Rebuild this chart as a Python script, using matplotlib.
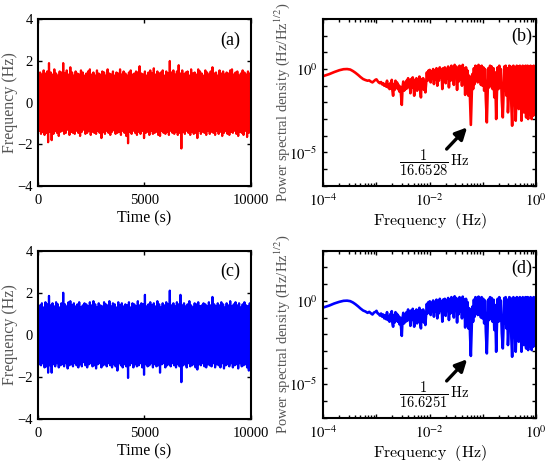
import numpy as np
import matplotlib
matplotlib.use("Agg")
import matplotlib.pyplot as plt
from matplotlib.ticker import LogLocator, FixedLocator, NullFormatter, FuncFormatter

plt.rcParams['font.family'] = ['Liberation Serif', 'DejaVu Serif']
plt.rcParams['mathtext.fontset'] = 'stix'

# ---- time series: upper / lower excursions of the noise band ----
upper_a = [1.30,1.45,1.35,1.55,1.40,1.50,1.90,1.45,1.35,1.60,1.40,1.30,1.50,1.45,1.90,1.40,1.55,1.35,1.70,1.45,
           1.30,1.50,1.40,1.35,1.55,1.45,1.30,1.40,1.50,1.60,1.35,1.45,1.30,1.55,1.40,1.35,1.50,1.45,1.30,1.60,
           1.40,1.35,1.50,1.30,1.45,1.40,1.60,1.35,1.50,1.40,1.30,1.45,1.55,1.35,1.40,1.50,1.45,1.75,1.40,1.35,
           1.50,1.30,1.45,1.55,1.40,1.65,1.35,1.50,1.40,1.45,1.55,1.30,1.50,1.40,2.00,1.45,1.55,1.35,1.50,1.80,
           1.40,1.55,1.35,1.45,1.50,1.30,1.60,1.40,1.45,1.35,1.60,1.50,1.40,1.30,1.55,1.45,1.35,1.50,1.70,1.40,
           1.45,1.30,1.55,1.40,1.50,1.35,1.45,1.40,1.55,1.60,1.35,1.45,1.50,1.30,1.40,1.55,1.45,1.35,1.50,1.40]
lower_a = [-1.35,-1.50,-1.40,-1.55,-1.45,-1.90,-1.40,-1.80,-1.50,-1.35,-1.45,-1.60,-1.40,-1.35,-1.50,-1.45,-1.30,-1.55,-1.40,-1.45,
           -1.50,-1.35,-1.45,-1.60,-1.40,-1.30,-1.50,-1.45,-1.35,-1.55,-1.40,-1.45,-1.50,-1.35,-1.45,-1.70,-1.40,-1.50,-1.35,-1.45,
           -1.55,-1.40,-1.30,-1.50,-1.45,-1.40,-1.55,-1.35,-1.45,-1.60,-1.95,-1.40,-1.50,-1.35,-1.45,-1.55,-1.40,-1.50,-1.35,-1.70,
           -1.45,-1.40,-1.55,-1.35,-1.50,-1.45,-1.40,-1.55,-1.60,-1.35,-1.45,-1.50,-1.40,-1.55,-1.35,-1.45,-1.50,-1.40,-1.55,-1.45,
           -2.20,-1.40,-1.50,-1.35,-1.45,-1.55,-1.40,-1.50,-1.45,-1.70,-1.35,-1.50,-1.40,-1.45,-1.55,-1.35,-1.50,-1.40,-1.45,-1.55,
           -1.35,-1.50,-1.40,-1.60,-1.45,-1.35,-1.50,-1.55,-1.40,-1.45,-1.35,-1.50,-1.60,-1.40,-1.45,-1.55,-1.35,-1.65,-1.45,-1.40]
upper_c = [1.35,1.40,1.50,1.30,1.55,1.45,1.85,1.40,1.50,1.35,1.55,1.45,1.30,1.50,2.00,1.45,1.35,1.55,1.60,1.40,
           1.50,1.35,1.45,1.55,1.30,1.40,1.50,1.45,1.35,1.55,1.40,1.60,1.45,1.30,1.50,1.40,1.35,1.55,1.45,1.40,
           1.60,1.35,1.50,1.45,1.30,1.55,1.40,1.50,1.35,1.45,1.40,1.55,1.30,1.50,1.45,1.35,1.60,1.40,1.50,1.45,
           1.90,1.35,1.45,1.55,1.40,1.50,1.35,1.60,1.45,1.30,1.50,1.40,1.55,1.45,2.10,1.40,1.50,1.35,1.55,1.45,
           1.90,1.40,1.50,1.35,1.45,1.60,1.40,1.30,1.50,1.45,1.55,1.35,1.40,1.50,1.45,1.35,1.55,1.40,1.80,1.45,
           1.35,1.50,1.40,1.55,1.45,1.30,1.50,1.40,1.60,1.35,1.45,1.55,1.40,1.50,1.30,1.45,1.55,1.40,1.35,1.50]
lower_c = [-1.40,-1.45,-1.35,-1.55,-1.50,-1.80,-1.45,-1.80,-1.40,-1.50,-1.35,-1.55,-1.45,-1.40,-1.50,-1.35,-1.60,-1.45,-1.40,-1.50,
           -1.35,-1.45,-1.55,-1.40,-1.50,-1.30,-1.45,-1.55,-1.40,-1.35,-1.50,-1.45,-1.60,-1.40,-1.35,-1.55,-1.45,-1.40,-1.50,-1.35,
           -1.45,-1.55,-1.40,-1.50,-1.70,-1.35,-1.45,-1.55,-1.40,-1.50,-2.05,-1.45,-1.35,-1.55,-1.40,-1.50,-1.45,-1.35,-1.55,-1.90,
           -1.40,-1.50,-1.45,-1.35,-1.55,-1.40,-1.50,-1.45,-1.80,-1.40,-1.35,-1.55,-1.45,-1.40,-1.50,-1.35,-1.45,-1.55,-1.40,-1.50,
           -2.25,-1.45,-1.40,-1.55,-1.35,-1.50,-1.45,-1.40,-1.55,-1.65,-1.40,-1.45,-1.35,-1.50,-1.55,-1.40,-1.45,-1.50,-1.35,-1.55,
           -1.40,-1.45,-1.55,-1.35,-1.60,-1.45,-1.40,-1.50,-1.35,-1.55,-1.45,-1.40,-1.60,-1.35,-1.50,-1.45,-1.40,-1.55,-1.70,-1.45]

# ---- PSD: frequencies (Hz) and log10 of the density ----
psd_freq = [1.0e-4,1.3e-4,1.6e-4,2.0e-4,2.4e-4,2.8e-4,3.2e-4,3.6e-4,4.0e-4,4.5e-4,
            5.0e-4,5.6e-4,6.2e-4,6.8e-4,7.3e-4,7.8e-4,8.4e-4,9.0e-4,9.6e-4,1.00e-3,
            1.05e-3,1.10e-3,1.16e-3,1.22e-3,1.28e-3,1.34e-3,1.40e-3,1.46e-3,1.52e-3,1.58e-3,
            1.64e-3,1.70e-3,1.76e-3,1.82e-3,1.88e-3,1.94e-3,2.00e-3,2.06e-3,2.12e-3,2.20e-3,
            2.28e-3,2.36e-3,2.44e-3,2.52e-3,2.60e-3,2.70e-3,2.80e-3,2.90e-3,3.00e-3,3.10e-3,
            3.20e-3,3.32e-3,3.44e-3,3.56e-3,3.68e-3,3.80e-3,3.94e-3,4.08e-3,4.22e-3,4.36e-3,
            4.50e-3,4.66e-3,4.82e-3,4.98e-3,5.14e-3,5.30e-3,5.48e-3,5.66e-3,5.84e-3,6.04e-3,
            6.24e-3,6.44e-3,6.66e-3,6.88e-3,7.10e-3,7.34e-3,7.58e-3,7.82e-3,8.08e-3,8.34e-3,
            8.60e-3,8.90e-3,9.20e-3,9.50e-3,9.80e-3,1.01e-2,1.05e-2,1.09e-2,1.13e-2,1.17e-2,
            1.21e-2,1.25e-2,1.30e-2,1.35e-2,1.40e-2,1.45e-2,1.50e-2,1.56e-2,1.62e-2,1.68e-2,
            1.74e-2,1.80e-2,1.87e-2,1.94e-2,2.01e-2,2.08e-2,2.16e-2,2.24e-2,2.32e-2,2.40e-2,
            2.49e-2,2.58e-2,2.67e-2,2.77e-2,2.87e-2,2.97e-2,3.08e-2,3.19e-2,3.30e-2,3.42e-2,
            3.54e-2,3.67e-2,3.80e-2,3.94e-2,4.08e-2,4.22e-2,4.37e-2,4.53e-2,4.69e-2,4.86e-2,
            5.03e-2,5.21e-2,5.40e-2,5.60e-2,5.80e-2,6.00e-2,6.20e-2,6.40e-2,6.62e-2,6.85e-2,
            7.08e-2,7.32e-2,7.57e-2,7.83e-2,8.10e-2,8.38e-2,8.67e-2,8.97e-2,9.28e-2,9.60e-2,
            9.93e-2,1.03e-1,1.07e-1,1.11e-1,1.15e-1,1.20e-1,1.24e-1,1.28e-1,1.33e-1,1.38e-1,
            1.43e-1,1.48e-1,1.54e-1,1.60e-1,1.66e-1,1.72e-1,1.80e-1,1.86e-1,1.92e-1,1.99e-1,
            2.06e-1,2.13e-1,2.20e-1,2.30e-1,2.40e-1,2.48e-1,2.56e-1,2.64e-1,2.72e-1,2.81e-1,
            2.90e-1,3.00e-1,3.09e-1,3.18e-1,3.27e-1,3.36e-1,3.48e-1,3.60e-1,3.70e-1,3.80e-1,
            3.90e-1,4.00e-1,4.10e-1,4.20e-1,4.30e-1,4.40e-1,4.53e-1,4.65e-1,4.80e-1,4.92e-1,
            5.04e-1,5.18e-1,5.30e-1,5.40e-1,5.55e-1,5.70e-1,5.85e-1,6.00e-1,6.15e-1,6.30e-1,
            6.45e-1,6.60e-1,6.75e-1,6.90e-1,7.05e-1,7.20e-1,7.40e-1,7.60e-1,7.80e-1,8.00e-1,
            8.20e-1,8.40e-1,8.60e-1,8.80e-1,9.00e-1,9.20e-1,9.40e-1,9.60e-1,9.80e-1,1.00e0]
psd_b_exp = [-0.42,-0.30,-0.18,-0.07,-0.01,0.00,-0.03,-0.12,-0.22,-0.35,
             -0.48,-0.60,-0.66,-0.70,-0.68,-0.75,-0.80,-0.72,-0.64,-0.62,
             -0.72,-0.80,-0.85,-0.78,-0.92,-0.85,-1.00,-0.90,-1.05,-0.70,
             -1.10,-0.95,-1.20,-0.85,-1.15,-0.65,-1.30,-1.60,-0.90,-1.25,
             -0.70,-1.10,-0.80,-1.20,-0.95,-1.35,-1.05,-1.55,-2.15,-1.10,
             -0.75,-1.30,-0.85,-1.20,-0.70,-1.15,-0.55,-1.05,-0.75,-1.45,
             -0.60,-1.10,-0.50,-1.00,-1.60,-0.65,-1.15,-0.55,-1.30,-0.70,
             -1.00,-0.45,-1.20,-1.70,-0.60,-1.10,-0.55,-1.25,-0.75,-1.40,
             -0.90,-0.20,-0.70,-0.10,-0.60,-0.05,-0.80,-0.15,-0.55,0.00,
             -0.90,-0.10,-0.60,0.05,-1.00,-0.05,-0.70,0.10,-0.50,-0.05,
             -1.20,0.05,-0.65,0.10,-0.85,0.00,-0.55,0.15,-1.10,0.05,
             -0.70,0.20,-0.60,0.10,-0.95,0.25,-0.50,0.15,-1.25,0.05,
             -0.75,0.20,-0.60,0.10,-1.00,0.25,-0.65,0.05,-1.55,0.10,
             -0.90,-0.10,-1.60,-0.40,-2.00,-3.35,-1.80,-0.30,-1.20,0.05,
             -0.90,0.20,-0.70,0.15,-0.80,0.25,-0.75,0.15,-0.95,0.20,
             -1.00,0.10,-1.30,0.00,-1.80,-3.20,-1.60,0.05,-1.10,0.20,
             -0.95,0.15,-1.20,0.05,-1.70,-0.20,-3.00,-1.40,0.10,-1.20,
             0.20,-1.10,0.00,-1.90,-2.90,-1.50,0.15,-1.30,0.20,-1.60,
             0.05,-2.60,-1.70,0.20,-1.50,0.15,-2.20,-3.40,-1.80,0.20,
             -1.60,0.10,-2.00,-3.10,-1.90,0.20,-1.70,0.15,-2.40,-1.60,
             0.20,-2.00,0.10,-3.10,-1.80,0.20,-2.30,-2.60,0.15,-2.10,
             0.20,-2.90,0.10,-2.20,0.20,-3.00,0.15,-2.40,-2.70,0.20,
             -2.30,-3.00,0.15,-2.50,-2.80,0.20,-2.40,-2.70,0.15,-2.50]
psd_d_exp = [-0.40,-0.28,-0.16,-0.06,0.00,0.01,-0.02,-0.10,-0.20,-0.33,
             -0.46,-0.58,-0.64,-0.72,-0.66,-0.74,-0.82,-0.70,-0.66,-0.60,
             -0.75,-0.78,-0.88,-0.76,-0.95,-0.82,-1.05,-0.88,-1.10,-0.68,
             -1.15,-0.92,-1.25,-0.80,-1.20,-0.62,-1.35,-1.55,-0.85,-1.30,
             -0.68,-1.15,-0.78,-1.25,-0.90,-1.40,-1.00,-1.60,-2.10,-1.05,
             -0.72,-1.35,-0.80,-1.25,-0.68,-1.20,-0.52,-1.10,-0.72,-1.50,
             -0.58,-1.15,-0.48,-1.05,-1.55,-0.62,-1.20,-0.52,-1.35,-0.68,
             -1.05,-0.42,-1.25,-1.65,-0.58,-1.15,-0.52,-1.30,-0.72,-1.45,
             -0.85,-0.18,-0.75,-0.08,-0.65,-0.03,-0.85,-0.12,-0.60,0.02,
             -0.95,-0.08,-0.65,0.07,-1.05,-0.03,-0.75,0.12,-0.55,-0.03,
             -1.25,0.07,-0.70,0.12,-0.90,0.02,-0.60,0.17,-1.15,0.07,
             -0.75,0.22,-0.65,0.12,-1.00,0.27,-0.55,0.17,-1.30,0.07,
             -0.80,0.22,-0.65,0.12,-1.05,0.25,-0.70,0.07,-1.60,0.12,
             -0.95,-0.08,-1.65,-0.45,-2.05,-3.30,-1.85,-0.35,-1.25,0.07,
             -0.95,0.22,-0.75,0.17,-0.85,0.25,-0.80,0.17,-1.00,0.22,
             -1.05,0.12,-1.35,0.02,-1.85,-3.15,-1.65,0.07,-1.15,0.22,
             -1.00,0.17,-1.25,0.07,-1.75,-0.25,-3.05,-1.45,0.12,-1.25,
             0.22,-1.15,0.02,-1.95,-2.85,-1.55,0.17,-1.35,0.22,-1.65,
             0.07,-2.65,-1.75,0.22,-1.55,0.17,-2.25,-3.35,-1.85,0.22,
             -1.65,0.12,-2.05,-3.05,-1.95,0.22,-1.75,0.17,-2.45,-1.65,
             0.22,-2.05,0.12,-3.05,-1.85,0.22,-2.35,-2.65,0.17,-2.15,
             0.22,-2.85,0.12,-2.25,0.22,-2.95,0.17,-2.45,-2.75,0.22,
             -2.35,-2.95,0.17,-2.55,-2.75,0.22,-2.45,-2.65,0.17,-2.55]

panels = [
    dict(pos_ts=[0.0697, 0.6034, 0.386, 0.3554], pos_psd=[0.588, 0.604, 0.386, 0.3554],
         up=upper_a, lo=lower_a, psd=psd_b_exp, color='#ff0000',
         tags=('(a)', '(b)'), period='16.6528'),
    dict(pos_ts=[0.0697, 0.1066, 0.386, 0.359], pos_psd=[0.588, 0.1094, 0.386, 0.356],
         up=upper_c, lo=lower_c, psd=psd_d_exp, color='#0000ff',
         tags=('(c)', '(d)'), period='16.6251'),
]

fig = plt.figure(figsize=(5.5, 4.69), dpi=100)
grey = '#555555'


def style(ax):
    for s in ax.spines.values():
        s.set_linewidth(1.5)
    ax.tick_params(which='both', direction='in', top=True, right=True,
                   labelsize=10.5, width=1, pad=4)
    ax.tick_params(axis='x', which='both', pad=6)
    ax.tick_params(which='major', length=3)
    ax.tick_params(which='minor', length=2)


def log_label(v, pos):
    e = int(round(np.log10(v)))
    return r'$10^{%d}$' % e


for p in panels:
    # time series
    ax = fig.add_axes(p['pos_ts'])
    vals = np.column_stack((p['up'], p['lo'])).ravel()
    t = np.linspace(0, 10000, len(vals))
    ax.plot(t, vals, color=p['color'], lw=1.6)
    ax.set_xlim(0, 10000)
    ax.set_ylim(-4, 4)
    ax.set_xticks([0, 5000, 10000])
    ax.set_yticks([-4, -2, 0, 2, 4])
    style(ax)
    ax.set_xlabel('Time (s)', fontsize=11.5, labelpad=2.5)
    ax.set_ylabel('Frequency (Hz)', fontsize=11.5, color=grey)
    ax.yaxis.set_label_coords(-0.096, 0.5)
    ax.text(0.905, 0.875, p['tags'][0], transform=ax.transAxes, fontsize=13,
            ha='center', va='center')

    # PSD
    ax = fig.add_axes(p['pos_psd'])
    ax.loglog(psd_freq, 10.0 ** np.array(p['psd']), color=p['color'], lw=1.9)
    ax.set_xlim(1e-4, 1)
    ax.set_ylim(1e-7, 1e3)
    ax.xaxis.set_major_locator(FixedLocator([1e-4, 1e-3, 1e-2, 1e-1, 1e0]))
    ax.xaxis.set_major_formatter(FuncFormatter(
        lambda v, pos: log_label(v, pos) if int(round(np.log10(v))) % 2 == 0 else ''))
    ax.xaxis.set_minor_locator(LogLocator(base=10, subs=np.arange(2, 10)))
    ax.xaxis.set_minor_formatter(NullFormatter())
    ax.yaxis.set_major_locator(FixedLocator([10.0 ** k for k in range(-7, 4)]))
    ax.yaxis.set_major_formatter(FuncFormatter(
        lambda v, pos: log_label(v, pos) if int(round(np.log10(v))) in (0, -5) else ''))
    ax.yaxis.set_minor_locator(FixedLocator([]))
    style(ax)
    ax.tick_params(axis='x', which='both', pad=5)
    ax.set_xlabel(r'$\mathrm{Frequency\ \ (Hz)}$', fontsize=11.5, math_fontfamily='cm',
                  labelpad=1.5)
    ax.set_ylabel('Power spectral density (Hz/Hz$^{1/2}$)', fontsize=10.5, color=grey)
    ax.yaxis.set_label_coords(-0.147, 0.5)
    ax.text(0.934, 0.894, p['tags'][1], transform=ax.transAxes, fontsize=13,
            ha='center', va='center')
    ax.annotate('', xy=(0.051, 10 ** -3.5), xytext=(0.021, 10 ** -4.8),
                arrowprops=dict(arrowstyle='-|>,head_length=0.7,head_width=0.35',
                                color='black', lw=2.4, shrinkA=0, shrinkB=0))
    ax.text(0.0125, 10 ** -5.6, r'$\dfrac{1}{%s}\,\mathrm{Hz}$' % p['period'],
            fontsize=10.5, math_fontfamily='cm', ha='center', va='center')

fig.savefig('out.png', dpi=100)
